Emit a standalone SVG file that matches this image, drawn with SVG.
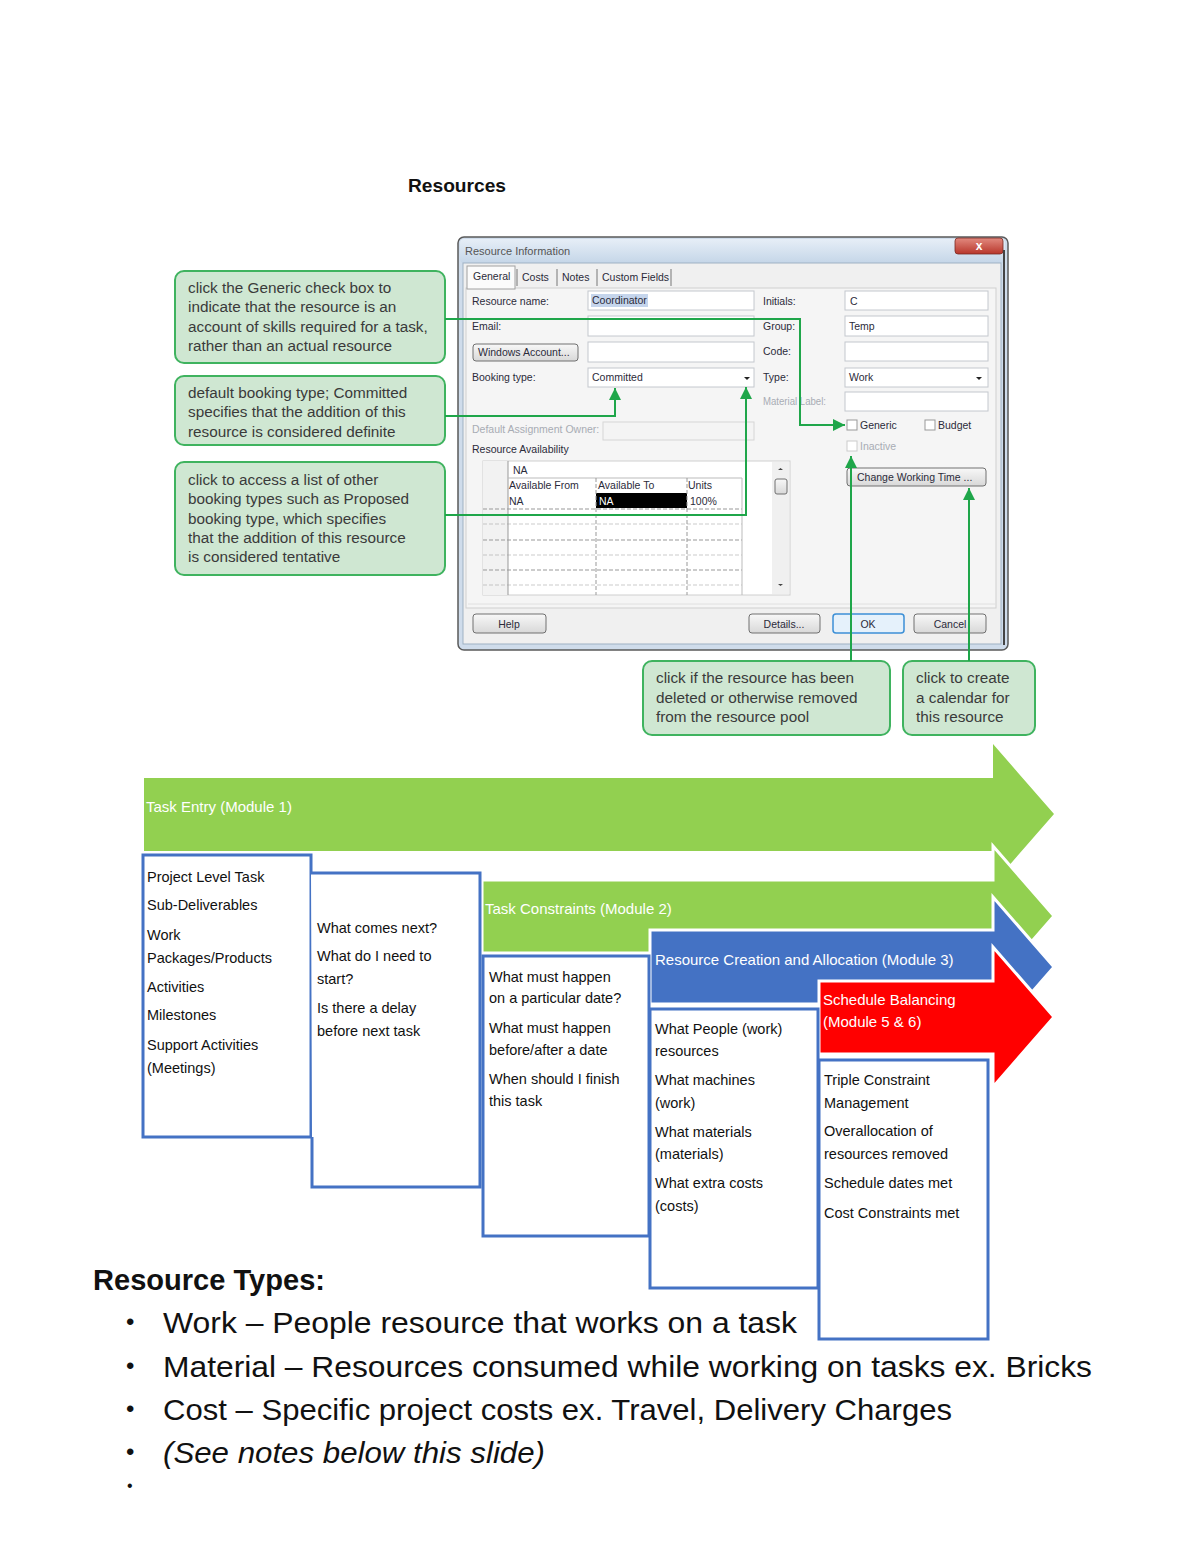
<svg xmlns="http://www.w3.org/2000/svg" width="1200" height="1553" viewBox="0 0 1200 1553">
<style>
.dlg{font-family:"Liberation Sans",Arial,sans-serif;font-size:10.5px;fill:#2b2b3a}
.dim{fill:#a8acb4}
.inp{fill:#fff;stroke:#c4c8ce;stroke-width:1}
.btn{fill:url(#btnG);stroke:#707070;stroke-width:1}
.co{fill:#cfe7d2;stroke:#3fb35f;stroke-width:2}
.cot{font-family:"Liberation Sans",Arial,sans-serif;font-size:15.3px;fill:#3a3a3a}
.conn{fill:none;stroke:#1fa64a;stroke-width:2}
.box{fill:#fff;stroke:#4472c4;stroke-width:3}
.bt{font-family:"Liberation Sans",Arial,sans-serif;font-size:14.5px;fill:#111}
.at{font-family:"Liberation Sans",Arial,sans-serif;font-size:15px;fill:#fff}
.big{font-family:"Liberation Sans",Arial,sans-serif;font-size:30px;fill:#111}
.grid{stroke:#999;stroke-width:1;stroke-dasharray:4 2}
</style>
<defs>
<linearGradient id="btnG" x1="0" y1="0" x2="0" y2="1"><stop offset="0" stop-color="#f8f8f8"/><stop offset="1" stop-color="#d8d8d8"/></linearGradient>
<linearGradient id="titleG" x1="0" y1="0" x2="0" y2="1"><stop offset="0" stop-color="#e6eef7"/><stop offset="1" stop-color="#c5d6e8"/></linearGradient>
<linearGradient id="closeG" x1="0" y1="0" x2="0" y2="1"><stop offset="0" stop-color="#e28a7f"/><stop offset="1" stop-color="#b8362b"/></linearGradient>
<marker id="ah" viewBox="0 0 10 10" refX="10" refY="5" markerWidth="6" markerHeight="6" markerUnits="strokeWidth" orient="auto"><path d="M0,0 L10,5 L0,10 z" fill="#1fa64a"/></marker>
</defs>
<rect width="1200" height="1553" fill="#fff"/>

<text x="408" y="192" font-family="Liberation Sans,Arial,sans-serif" font-size="18.5px" font-weight="bold" fill="#111" textLength="98" lengthAdjust="spacingAndGlyphs">Resources</text>

<g id="dialog">
<rect x="458" y="237" width="550" height="413" rx="6" fill="#cfdceb" stroke="#5a5a5a" stroke-width="1.5"/>
<rect x="460" y="239" width="545" height="24" rx="4" fill="url(#titleG)"/>
<text x="465" y="255" class="dlg" style="fill:#555;font-size:11px">Resource Information</text>
<rect x="955" y="238" width="48" height="16" rx="3" fill="url(#closeG)" stroke="#7a2a22" stroke-width="0.8"/>
<text x="979" y="250" text-anchor="middle" font-family="Liberation Sans,Arial,sans-serif" font-size="12px" font-weight="bold" fill="#fff">x</text>
<line x1="1004" y1="250" x2="1004" y2="645" stroke="#444" stroke-width="2"/>
<rect x="463" y="263" width="538" height="381" fill="#f0f0f0" stroke="#9fb1c4"/>
<rect x="466" y="288" width="530" height="320" fill="#f5f5f5" stroke="#cfcfcf"/>
<rect x="467" y="266" width="48" height="23" fill="#fbfbfb" stroke="#a0a0a0"/>
<text x="473" y="280" class="dlg">General</text>
<text x="522" y="281" class="dlg">Costs</text>
<text x="562" y="281" class="dlg">Notes</text>
<text x="602" y="281" class="dlg">Custom Fields</text>
<line x1="517" y1="269" x2="517" y2="286" stroke="#777"/>
<line x1="557" y1="269" x2="557" y2="286" stroke="#777"/>
<line x1="597" y1="269" x2="597" y2="286" stroke="#777"/>
<line x1="671" y1="269" x2="671" y2="286" stroke="#777"/>

<text x="472" y="305" class="dlg">Resource name:</text>
<text x="472" y="330" class="dlg">Email:</text>
<rect x="473" y="344" width="105" height="17" rx="3" class="btn"/>
<text x="478" y="356" class="dlg">Windows Account...</text>
<text x="472" y="381" class="dlg">Booking type:</text>
<rect x="588" y="291" width="166" height="19" class="inp"/>
<rect x="591" y="294" width="57" height="13" fill="#c5d5ec"/>
<text x="592" y="304" class="dlg">Coordinator</text>
<rect x="588" y="316" width="166" height="20" class="inp"/>
<rect x="588" y="342" width="166" height="20" class="inp"/>
<rect x="588" y="368" width="166" height="19" class="inp"/>
<text x="592" y="381" class="dlg">Committed</text>
<path d="M744,377 h6 l-3,3 z" fill="#222"/>

<text x="763" y="305" class="dlg">Initials:</text>
<text x="763" y="330" class="dlg">Group:</text>
<text x="763" y="355" class="dlg">Code:</text>
<text x="763" y="381" class="dlg">Type:</text>
<text x="763" y="405" class="dlg dim" textLength="63" lengthAdjust="spacingAndGlyphs">Material Label:</text>
<rect x="845" y="291" width="143" height="19" class="inp"/>
<text x="850" y="305" class="dlg">C</text>
<rect x="845" y="316" width="143" height="20" class="inp"/>
<text x="849" y="330" class="dlg">Temp</text>
<rect x="845" y="342" width="143" height="19" class="inp"/>
<rect x="845" y="368" width="143" height="19" class="inp"/>
<text x="849" y="381" class="dlg">Work</text>
<path d="M976,377 h6 l-3,3 z" fill="#222"/>
<rect x="845" y="392" width="143" height="19" class="inp"/>

<rect x="847" y="420" width="10" height="10" fill="#fff" stroke="#999"/>
<text x="860" y="429" class="dlg">Generic</text>
<rect x="925" y="420" width="10" height="10" fill="#fff" stroke="#999"/>
<text x="938" y="429" class="dlg">Budget</text>
<rect x="847" y="441" width="10" height="10" fill="#fff" stroke="#ccc"/>
<text x="860" y="450" class="dlg dim">Inactive</text>
<rect x="847" y="468" width="139" height="18" rx="3" class="btn"/>
<text x="857" y="481" class="dlg">Change Working Time ...</text>

<text x="472" y="433" class="dlg dim">Default Assignment Owner:</text>
<rect x="603" y="422" width="151" height="18" fill="#f4f4f4" stroke="#d6d6d6"/>
<text x="472" y="453" class="dlg">Resource Availability</text>

<rect x="483" y="461" width="307" height="134" fill="#fff" stroke="#cfcfcf"/>
<rect x="483" y="461" width="25" height="134" fill="#f2f2f2"/>
<line x1="508" y1="461" x2="508" y2="595" stroke="#999"/>
<rect x="772" y="462" width="17" height="132" fill="#f0f0f0"/>
<rect x="775" y="479" width="12" height="15" rx="2" class="btn"/>
<path d="M778,470 h5 l-2.5,-2 z" fill="#444"/>
<path d="M778,584 h5 l-2.5,2 z" fill="#444"/>
<text x="513" y="474" class="dlg">NA</text>
<line x1="508" y1="478" x2="742" y2="478" stroke="#bbb"/>
<text x="509" y="489" class="dlg">Available From</text>
<text x="598" y="489" class="dlg">Available To</text>
<text x="688" y="489" class="dlg">Units</text>
<text x="509" y="505" class="dlg">NA</text>
<rect x="596" y="493" width="91" height="15" fill="#000"/>
<text x="599" y="505" class="dlg" style="fill:#fff">NA</text>
<text x="690" y="505" class="dlg">100%</text>
<line x1="483" y1="509" x2="742" y2="509" class="grid"/>
<line x1="483" y1="524" x2="742" y2="524" class="grid" stroke-opacity="0.5"/>
<line x1="483" y1="540" x2="742" y2="540" class="grid"/>
<line x1="483" y1="555" x2="742" y2="555" class="grid" stroke-opacity="0.5"/>
<line x1="483" y1="570" x2="742" y2="570" class="grid"/>
<line x1="483" y1="585" x2="742" y2="585" class="grid" stroke-opacity="0.5"/>
<line x1="596" y1="478" x2="596" y2="595" class="grid"/>
<line x1="687" y1="478" x2="687" y2="595" class="grid"/>
<line x1="742" y1="478" x2="742" y2="595" stroke="#bbb"/>

<line x1="468" y1="604" x2="996" y2="604" stroke="#e0e0e0"/>
<rect x="473" y="614" width="73" height="19" rx="3" class="btn"/>
<text x="509" y="628" text-anchor="middle" class="dlg">Help</text>
<rect x="749" y="614" width="71" height="19" rx="3" class="btn"/>
<text x="784" y="628" text-anchor="middle" class="dlg">Details...</text>
<rect x="833" y="614" width="71" height="19" rx="3" fill="#e5f1fb" stroke="#3c8fd6" stroke-width="1.5"/>
<text x="868" y="628" text-anchor="middle" class="dlg">OK</text>
<rect x="914" y="614" width="72" height="19" rx="3" class="btn"/>
<text x="950" y="628" text-anchor="middle" class="dlg">Cancel</text>
</g>

<g id="callout-generic">
<rect x="175" y="271" width="270" height="92" rx="9" class="co"/>
<text class="cot"><tspan x="188" y="293">click the Generic check box to</tspan><tspan x="188" y="312">indicate that the resource is an</tspan><tspan x="188" y="332">account of skills required for a task,</tspan><tspan x="188" y="351">rather than an actual resource</tspan></text>
</g>
<g id="callout-default">
<rect x="175" y="376" width="270" height="69" rx="9" class="co"/>
<text class="cot"><tspan x="188" y="398">default booking type; Committed</tspan><tspan x="188" y="417">specifies that the addition of this</tspan><tspan x="188" y="437">resource is considered definite</tspan></text>
</g>
<g id="callout-list">
<rect x="175" y="462" width="270" height="113" rx="9" class="co"/>
<text class="cot"><tspan x="188" y="485">click to access a list of other</tspan><tspan x="188" y="504">booking types such as Proposed</tspan><tspan x="188" y="524">booking type, which specifies</tspan><tspan x="188" y="543">that the addition of this resource</tspan><tspan x="188" y="562">is considered tentative</tspan></text>
</g>
<g id="callout-inactive">
<rect x="643" y="661" width="247" height="74" rx="9" class="co"/>
<text class="cot"><tspan x="656" y="683">click if the resource has been</tspan><tspan x="656" y="703">deleted or otherwise removed</tspan><tspan x="656" y="722">from the resource pool</tspan></text>
</g>
<g id="callout-calendar">
<rect x="903" y="661" width="132" height="74" rx="9" class="co"/>
<text class="cot"><tspan x="916" y="683">click to create</tspan><tspan x="916" y="703">a calendar for</tspan><tspan x="916" y="722">this resource</tspan></text>
</g>

<g id="connectors">
<path class="conn" marker-end="url(#ah)" d="M445,319 H800 V425 H845"/>
<path class="conn" marker-end="url(#ah)" d="M445,416 H615 V388"/>
<path class="conn" marker-end="url(#ah)" d="M445,515 H746 V387"/>
<path class="conn" marker-end="url(#ah)" d="M851,661 V456"/>
<path class="conn" marker-end="url(#ah)" d="M969,661 V488"/>
</g>

<g id="arrow-task-entry">
<polygon points="144,778 993,778 993,744 1054,814 993,884 993,851 144,851" fill="#92d050"/>
<text x="146" y="812" class="at">Task Entry (Module 1)</text>
</g>
<g id="arrow-task-constraints">
<polygon points="482,880 993,880 993,846 1054,916 993,986 993,953 482,953" fill="#92d050" stroke="#fff" stroke-width="3"/>
<text x="485" y="914" class="at">Task Constraints (Module 2)</text>
</g>
<g id="arrow-resource">
<polygon points="650,930 993,930 993,897 1054,967 993,1037 993,1004 650,1004" fill="#4472c4" stroke="#fff" stroke-width="3"/>
<text x="655" y="965" class="at">Resource Creation and Allocation (Module 3)</text>
</g>
<g id="arrow-schedule">
<polygon points="819,981 993,981 993,947 1054,1017 993,1087 993,1054 819,1054" fill="#ff0000" stroke="#fff" stroke-width="3"/>
<text class="at"><tspan x="823" y="1005">Schedule Balancing</tspan><tspan x="823" y="1027">(Module 5 &amp; 6)</tspan></text>
</g>

<g id="box-task-entry">
<rect x="143" y="855" width="168" height="282" class="box"/>
<text class="bt"><tspan x="147" y="882">Project Level Task</tspan><tspan x="147" y="910">Sub-Deliverables</tspan><tspan x="147" y="940">Work</tspan><tspan x="147" y="963">Packages/Products</tspan><tspan x="147" y="992">Activities</tspan><tspan x="147" y="1020">Milestones</tspan><tspan x="147" y="1050">Support Activities</tspan><tspan x="147" y="1073">(Meetings)</tspan></text>
</g>
<g id="box-next">
<path d="M311,873 H480 V1187 H312 V1137" class="box"/>
<text class="bt"><tspan x="317" y="933">What comes next?</tspan><tspan x="317" y="961">What do I need to</tspan><tspan x="317" y="984">start?</tspan><tspan x="317" y="1013">Is there a delay</tspan><tspan x="317" y="1036">before next task</tspan></text>
</g>
<g id="box-constraints">
<rect x="483" y="956" width="166" height="280" class="box"/>
<text class="bt"><tspan x="489" y="982">What must happen</tspan><tspan x="489" y="1003">on a particular date?</tspan><tspan x="489" y="1033">What must happen</tspan><tspan x="489" y="1055">before/after a date</tspan><tspan x="489" y="1084">When should I finish</tspan><tspan x="489" y="1106">this task</tspan></text>
</g>
<g id="box-resources">
<rect x="650" y="1009" width="168" height="279" class="box"/>
<text class="bt"><tspan x="655" y="1034">What People (work)</tspan><tspan x="655" y="1056">resources</tspan><tspan x="655" y="1085">What machines</tspan><tspan x="655" y="1108">(work)</tspan><tspan x="655" y="1137">What materials</tspan><tspan x="655" y="1159">(materials)</tspan><tspan x="655" y="1188">What extra costs</tspan><tspan x="655" y="1211">(costs)</tspan></text>
</g>
<g id="box-schedule">
<rect x="819" y="1060" width="169" height="279" class="box"/>
<text class="bt"><tspan x="824" y="1085">Triple Constraint</tspan><tspan x="824" y="1108">Management</tspan><tspan x="824" y="1136">Overallocation of</tspan><tspan x="824" y="1159">resources removed</tspan><tspan x="824" y="1188">Schedule dates met</tspan><tspan x="824" y="1218">Cost Constraints met</tspan></text>
</g>

<g id="resource-types">
<text x="93" y="1290" font-family="Liberation Sans,Arial,sans-serif" font-size="29px" font-weight="bold" fill="#111" textLength="232" lengthAdjust="spacingAndGlyphs">Resource Types:</text>
<text x="126" y="1330" class="big" style="font-size:24px">•</text>
<text x="163" y="1333" class="big" textLength="634" lengthAdjust="spacingAndGlyphs">Work – People resource that works on a task</text>
<text x="126" y="1374" class="big" style="font-size:24px">•</text>
<text x="163" y="1377" class="big" textLength="929" lengthAdjust="spacingAndGlyphs">Material – Resources consumed while working on tasks ex. Bricks</text>
<text x="126" y="1417" class="big" style="font-size:24px">•</text>
<text x="163" y="1420" class="big" textLength="789" lengthAdjust="spacingAndGlyphs">Cost – Specific project costs ex. Travel, Delivery Charges</text>
<text x="126" y="1460" class="big" style="font-size:24px">•</text>
<text x="163" y="1463" class="big" font-style="italic" textLength="382" lengthAdjust="spacingAndGlyphs">(See notes below this slide)</text>
<text x="127" y="1491" class="big" style="font-size:16px">•</text>
</g>
</svg>
